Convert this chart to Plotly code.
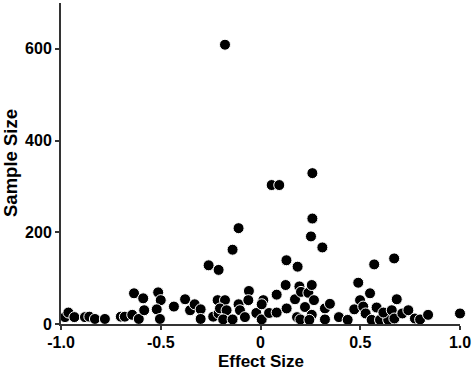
import plotly.graph_objects as go

effect_size = [
    -0.98, -0.963, -0.933, -0.88, -0.858, -0.83, -0.78, -0.70, -0.68, -0.643,
    -0.61, -0.634, -0.588, -0.583, -0.513, -0.50, -0.52, -0.504, -0.434, -0.378,
    -0.353, -0.33, -0.30, -0.30, -0.26, -0.21, -0.14, -0.11, -0.178, 0.056,
    0.094, 0.26, 0.26, 0.253, 0.31, 0.13, 0.186, -0.237, -0.21, -0.215,
    -0.178, -0.203, -0.17, -0.187, -0.14, -0.11, -0.103, -0.078, -0.058, -0.061,
    -0.021, 0.006, 0.014, 0.006, 0.043, 0.081, 0.081, 0.126, 0.131, 0.173,
    0.195, 0.203, 0.24, 0.257, 0.223, 0.257, 0.183, 0.2, 0.245, 0.268,
    0.323, 0.323, 0.348, 0.393, 0.437, 0.49, 0.549, 0.499, 0.47, 0.515,
    0.527, 0.557, 0.582, 0.599, 0.64, 0.616, 0.658, 0.671, 0.683, 0.711,
    0.741, 0.774, 0.80, 0.84, 1.0, 0.57, 0.67,
]
sample_size = [
    15, 25, 15, 15, 16, 11, 11, 16, 16, 20,
    11, 67, 56, 30, 69, 52, 32, 11, 38, 54,
    30, 43, 32, 11, 128, 118, 162, 209, 609, 303,
    303, 329, 230, 191, 167, 139, 125, 16, 23, 52,
    52, 34, 30, 10, 10, 43, 30, 15, 72, 52,
    24, 10, 52, 43, 24, 25, 64, 85, 34, 54,
    82, 70, 68, 85, 37, 20, 15, 10, 9, 52,
    34, 10, 44, 15, 9, 90, 67, 52, 32, 38,
    23, 9, 36, 9, 9, 25, 30, 12, 54, 23,
    30, 12, 10, 20, 23, 130, 143,
]

x_ticks = [-1.0, -0.5, 0, 0.5, 1.0]
x_tick_labels = ["-1.0", "-0.5", "0", "0.5", "1.0"]
y_ticks = [0, 200, 400, 600]
y_tick_labels = ["0", "200", "400", "600"]
x_title = "Effect Size"
y_title = "Sample Size"

fig = go.Figure(
    go.Scatter(
        x=effect_size,
        y=sample_size,
        mode="markers",
        cliponaxis=False,
        hoverinfo="skip",
        marker=dict(size=11, color="black", line=dict(color="white", width=1)),
    )
)

font_family = "Liberation Sans, Arial, sans-serif"
fig.update_layout(
    width=474,
    height=371,
    margin=dict(l=61, r=14, t=3, b=47, autoexpand=False),
    paper_bgcolor="white",
    plot_bgcolor="white",
    showlegend=False,
    font=dict(family=font_family, color="black"),
)
axis_style = dict(
    showgrid=False,
    zeroline=False,
    showline=True,
    linecolor="#333333",
    linewidth=2,
    ticks="outside",
    ticklen=4,
    tickwidth=2,
    tickcolor="#333333",
    automargin=False,
    tickfont=dict(size=16, family=font_family, weight="bold", color="black"),
)
fig.update_xaxes(range=[-1, 1], tickvals=x_ticks, ticktext=x_tick_labels,
                 ticklabelstandoff=-1, **axis_style)
fig.update_yaxes(range=[0, 700], tickvals=y_ticks, ticktext=y_tick_labels, **axis_style)

fig.add_annotation(
    text="<b>" + x_title + "</b>",
    xref="paper", yref="paper", x=0.5, y=0,
    xanchor="center", yanchor="top", yshift=-26.5,
    borderpad=0,
    showarrow=False,
    font=dict(size=17, family=font_family, color="black"),
)
fig.add_annotation(
    text="<b>" + y_title + "</b>",
    xref="paper", yref="paper", x=0, y=0.5,
    xanchor="left", yanchor="middle", xshift=-63,
    textangle=-90,
    showarrow=False,
    font=dict(size=18.5, family=font_family, color="black"),
)

fig.write_html(
    "out.html",
    config={"displayModeBar": False, "staticPlot": True},
    post_script="document.body.style.margin='0';document.body.style.overflow='hidden';",
)
